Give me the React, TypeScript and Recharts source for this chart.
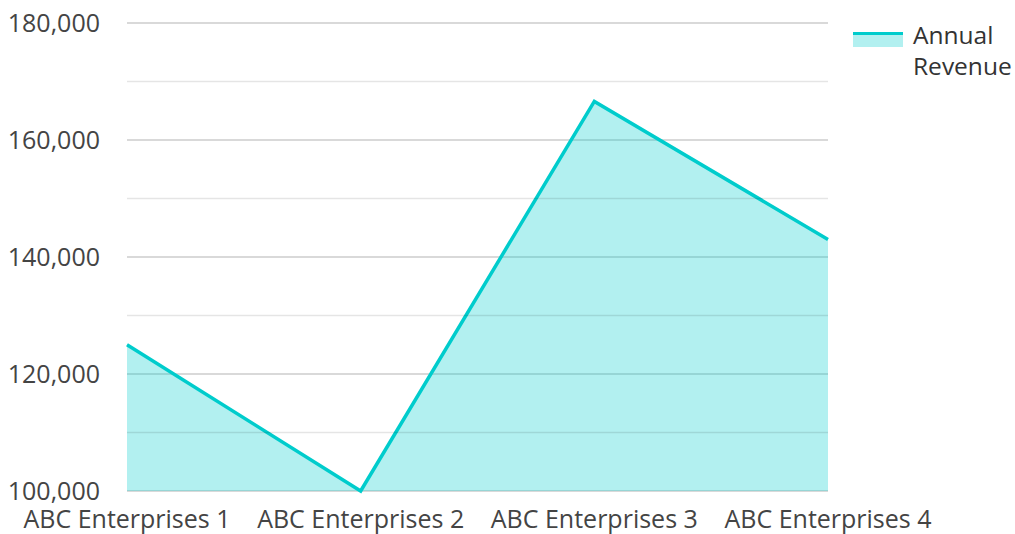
import React from "react";
import { AreaChart, Area, XAxis, YAxis, CartesianGrid, ReferenceLine, Legend } from "recharts";

const categories = ["ABC Enterprises 1", "ABC Enterprises 2", "ABC Enterprises 3", "ABC Enterprises 4"];
const revenue = [125000, 100000, 166600, 143000];
const majorTicks = [100000, 120000, 140000, 160000, 180000];
const minorTicks = [110000, 130000, 150000, 170000];
const seriesName = "Annual Revenue";

const data = categories.map((c, i) => ({ name: c, value: revenue[i] }));

const FONT = "'Open Sans', 'Noto Sans', sans-serif";
const TEAL = "#00cccc";

const LegendContent = () => (
  <div style={{ display: "flex", alignItems: "flex-start", fontFamily: FONT, fontSize: 24.5, color: "#333", lineHeight: "31px" }}>
    <svg width={50} height={15} style={{ marginTop: 13, marginRight: 10, flexShrink: 0 }}>
      <rect x={0} y={0} width={50} height={15} fill={TEAL} fillOpacity={0.3} />
      <line x1={0} x2={50} y1={1.5} y2={1.5} stroke={TEAL} strokeWidth={3} />
    </svg>
    <div style={{ width: 110 }}>Annual<br />Revenue</div>
  </div>
);

export default function App() {
  return (
    <div style={{ position: "absolute", left: 0, top: 0 }}>
      <AreaChart width={1015} height={534} data={data} margin={{ top: 23, right: 25, left: 0, bottom: 0 }}>
        <CartesianGrid vertical={false} stroke="#000" strokeOpacity={0.2} strokeWidth={1.3} />
        {minorTicks.map((v) => (
          <ReferenceLine key={v} y={v} stroke="#000" strokeOpacity={0.1} strokeWidth={1.3} />
        ))}
        <XAxis
          dataKey="name"
          axisLine={false}
          tickLine={false}
          tickSize={0}
          tickMargin={19}
          height={43}
          interval={0}
          tick={{ fill: "#444", fontSize: 25, fontFamily: FONT }}
        />
        <YAxis
          domain={[100000, 180000]}
          ticks={majorTicks}
          axisLine={false}
          tickLine={false}
          tickSize={0}
          tickMargin={27}
          width={127}
          tickFormatter={(v: number) => v.toLocaleString("en-US")}
          tick={{ fill: "#444", fontSize: 25, fontFamily: FONT }}
        />
        <Legend
          verticalAlign="top"
          align="right"
          layout="vertical"
          content={<LegendContent />}
          wrapperStyle={{ top: 19, left: 853, width: 162 }}
        />
        <Area
          type="linear"
          dataKey="value"
          name={seriesName}
          stroke={TEAL}
          strokeWidth={3.5}
          fill={TEAL}
          fillOpacity={0.3}
          dot={false}
          activeDot={false}
          isAnimationActive={false}
        />
      </AreaChart>
    </div>
  );
}
